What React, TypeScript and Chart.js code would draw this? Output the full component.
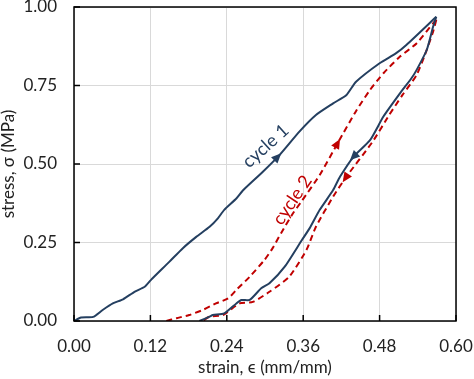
import React, { useEffect, useRef } from "react";
import { Chart, registerables } from "chart.js";

Chart.register(...registerables);

// ---- data (strain in mm/mm, stress in MPa) ----
const cycle1LoadStrain = [0, 0.011, 0.03, 0.045, 0.061, 0.077, 0.095, 0.111, 0.121, 0.15, 0.171, 0.192, 0.213, 0.226, 0.236, 0.255, 0.266, 0.295, 0.323, 0.354, 0.38, 0.407, 0.428, 0.443, 0.48, 0.506, 0.522, 0.569];
const cycle1LoadStress = [0, 0.011, 0.013, 0.035, 0.056, 0.069, 0.093, 0.109, 0.131, 0.189, 0.232, 0.268, 0.3, 0.327, 0.354, 0.39, 0.417, 0.472, 0.529, 0.603, 0.656, 0.693, 0.72, 0.762, 0.821, 0.853, 0.879, 0.969];

const cycle1UnloadStrain = [0.569, 0.564, 0.554, 0.538, 0.53, 0.512, 0.486, 0.465, 0.439, 0.418, 0.407, 0.386, 0.37, 0.358, 0.331, 0.307, 0.294, 0.276, 0.263, 0.255, 0.236, 0.218, 0.213, 0.197];
const cycle1UnloadStress = [0.969, 0.937, 0.863, 0.799, 0.773, 0.725, 0.651, 0.576, 0.523, 0.46, 0.417, 0.354, 0.295, 0.258, 0.173, 0.12, 0.104, 0.067, 0.067, 0.056, 0.024, 0.019, 0.014, 0];

const cycle2LoadStrain = [0.145, 0.161, 0.181, 0.202, 0.223, 0.242, 0.255, 0.276, 0.299, 0.312, 0.325, 0.344, 0.357, 0.386, 0.414, 0.444, 0.465, 0.486, 0.512, 0.538, 0.564, 0.569];
const cycle2LoadStress = [0, 0.009, 0.019, 0.035, 0.056, 0.072, 0.099, 0.141, 0.194, 0.232, 0.279, 0.343, 0.38, 0.465, 0.566, 0.672, 0.736, 0.789, 0.842, 0.884, 0.948, 0.959];

const cycle2UnloadStrain = [0.569, 0.564, 0.551, 0.538, 0.516, 0.495, 0.469, 0.428, 0.407, 0.38, 0.365, 0.338, 0.307, 0.281, 0.26, 0.234, 0.213, 0.202];
const cycle2UnloadStress = [0.959, 0.921, 0.847, 0.783, 0.72, 0.656, 0.571, 0.46, 0.396, 0.3, 0.226, 0.141, 0.093, 0.061, 0.056, 0.019, 0.014, 0];

const xTicks = [0, 0.12, 0.24, 0.36, 0.48, 0.6];
const yTicks = [0, 0.25, 0.5, 0.75, 1.0];

// arrows: which series, at which stress level
const arrowSeries = [0, 1, 2, 3];
const arrowStress = [0.523, 0.523, 0.566, 0.455];

// text labels
const labelText = ["cycle 1", "cycle 2"];
const labelStrain = [0.301, 0.343];
const labelStress = [0.557, 0.385];
const labelAngle = [-42, -56];
const labelColor = ["#243f60", "#c00000"];

const NAVY = "#243f60";
const RED = "#c00000";
const FONT = "Lato, 'Open Sans', sans-serif";

const zip = (xs: number[], ys: number[]) => xs.map((x, i) => ({ x, y: ys[i] }));

const seriesPts = [
  zip(cycle1LoadStrain, cycle1LoadStress),
  zip(cycle1UnloadStrain, cycle1UnloadStress),
  zip(cycle2LoadStrain, cycle2LoadStress),
  zip(cycle2UnloadStrain, cycle2UnloadStress),
];
const seriesColor = [NAVY, NAVY, RED, RED];
const seriesDash = [[], [], [6, 4], [6, 4]];

const overlay = {
  id: "overlay",
  afterDatasetsDraw(chart: any) {
    const { ctx, scales } = chart;
    const xs = scales.x;
    const ys = scales.y;
    arrowSeries.forEach((si, k) => {
      const pts = seriesPts[si];
      const v = arrowStress[k];
      for (let i = 0; i < pts.length - 1; i++) {
        const a = pts[i];
        const b = pts[i + 1];
        const lo = Math.min(a.y, b.y);
        const hi = Math.max(a.y, b.y);
        if (v >= lo && v <= hi && hi > lo) {
          const t = (v - a.y) / (b.y - a.y);
          const sx = a.x + t * (b.x - a.x);
          const px = xs.getPixelForValue(sx);
          const py = ys.getPixelForValue(v);
          const dx = xs.getPixelForValue(b.x) - xs.getPixelForValue(a.x);
          const dy = ys.getPixelForValue(b.y) - ys.getPixelForValue(a.y);
          const ang = Math.atan2(dy, dx);
          ctx.save();
          ctx.translate(px, py);
          ctx.rotate(ang);
          ctx.fillStyle = seriesColor[si];
          ctx.beginPath();
          ctx.moveTo(5, 0);
          ctx.lineTo(-5, -4.5);
          ctx.lineTo(-5, 4.5);
          ctx.closePath();
          ctx.fill();
          ctx.restore();
          break;
        }
      }
    });
    labelText.forEach((t, i) => {
      const px = xs.getPixelForValue(labelStrain[i]);
      const py = ys.getPixelForValue(labelStress[i]);
      ctx.save();
      ctx.translate(px, py);
      ctx.rotate((labelAngle[i] * Math.PI) / 180);
      ctx.fillStyle = labelColor[i];
      ctx.font = `18px ${FONT}`;
      ctx.textAlign = "center";
      ctx.textBaseline = "middle";
      ctx.fillText(t, 0, 0);
      ctx.restore();
    });
  },
  afterDraw(chart: any) {
    const { ctx, chartArea, scales } = chart;
    const { left, right, top, bottom } = chartArea;
    ctx.save();
    ctx.strokeStyle = "#000";
    ctx.lineWidth = 1.5;
    ctx.strokeRect(left, top, right - left, bottom - top);
    ctx.beginPath();
    yTicks.forEach((v) => {
      const py = scales.y.getPixelForValue(v);
      ctx.moveTo(left, py);
      ctx.lineTo(left + 6, py);
    });
    xTicks.forEach((v) => {
      const px = scales.x.getPixelForValue(v);
      ctx.moveTo(px, bottom);
      ctx.lineTo(px, bottom - 6);
    });
    ctx.stroke();
    ctx.restore();
  },
};

export default function App() {
  const ref = useRef<HTMLCanvasElement | null>(null);
  useEffect(() => {
    if (!ref.current) return;
    const chart = new Chart(ref.current, {
      type: "scatter",
      data: {
        datasets: seriesPts.map((pts, i) => ({
          data: pts,
          showLine: true,
          borderColor: seriesColor[i],
          backgroundColor: seriesColor[i],
          borderWidth: 2,
          borderDash: seriesDash[i],
          pointRadius: 0,
          pointHoverRadius: 0,
          tension: 0.2,
        })),
      },
      options: {
        responsive: false,
        animation: false,
        events: [],
        layout: { padding: { left: 0, right: 18, top: 7, bottom: 0 } },
        plugins: { legend: { display: false }, tooltip: { enabled: false } },
        scales: {
          x: {
            type: "linear",
            min: 0,
            max: 0.6,
            afterBuildTicks: (s: any) => {
              s.ticks = xTicks.map((v) => ({ value: v }));
            },
            afterFit: (s: any) => {
              s.height = 58;
              s.paddingLeft = 0;
              s.paddingRight = 0;
              s.paddingTop = 0;
              s.paddingBottom = 0;
            },
            grid: { color: "#d9d9d9", lineWidth: 1, drawTicks: false },
            border: { display: false },
            ticks: {
              padding: 15,
              color: "#222",
              font: { family: FONT, size: 17 },
              callback: (v: any) => Number(v).toFixed(2),
              maxRotation: 0,
            },
            title: {
              display: true,
              text: "strain, ϵ (mm/mm)",
              color: "#222",
              font: { family: FONT, size: 17, lineHeight: 1 },
              padding: { top: 0, bottom: 3 },
            },
          },
          y: {
            type: "linear",
            min: 0,
            max: 1,
            afterBuildTicks: (s: any) => {
              s.ticks = yTicks.map((v) => ({ value: v }));
            },
            afterFit: (s: any) => {
              s.width = 74;
              s.paddingLeft = 0;
              s.paddingRight = 0;
              s.paddingTop = 0;
              s.paddingBottom = 0;
            },
            grid: { color: "#d9d9d9", lineWidth: 1, drawTicks: false },
            border: { display: false },
            ticks: {
              padding: 17,
              color: "#222",
              font: { family: FONT, size: 17 },
              callback: (v: any) => Number(v).toFixed(2),
            },
            title: {
              display: true,
              text: "stress, σ (MPa)",
              color: "#222",
              font: { family: FONT, size: 17, lineHeight: 1 },
              padding: { top: 0, bottom: 0 },
            },
          },
        },
      },
      plugins: [overlay],
    } as any);
    return () => chart.destroy();
  }, []);
  return (
    <div style={{ position: "fixed", left: 0, top: 0, width: 474, height: 379, background: "#fff" }}>
      <canvas ref={ref} width={474} height={379} style={{ display: "block" }} />
    </div>
  );
}
